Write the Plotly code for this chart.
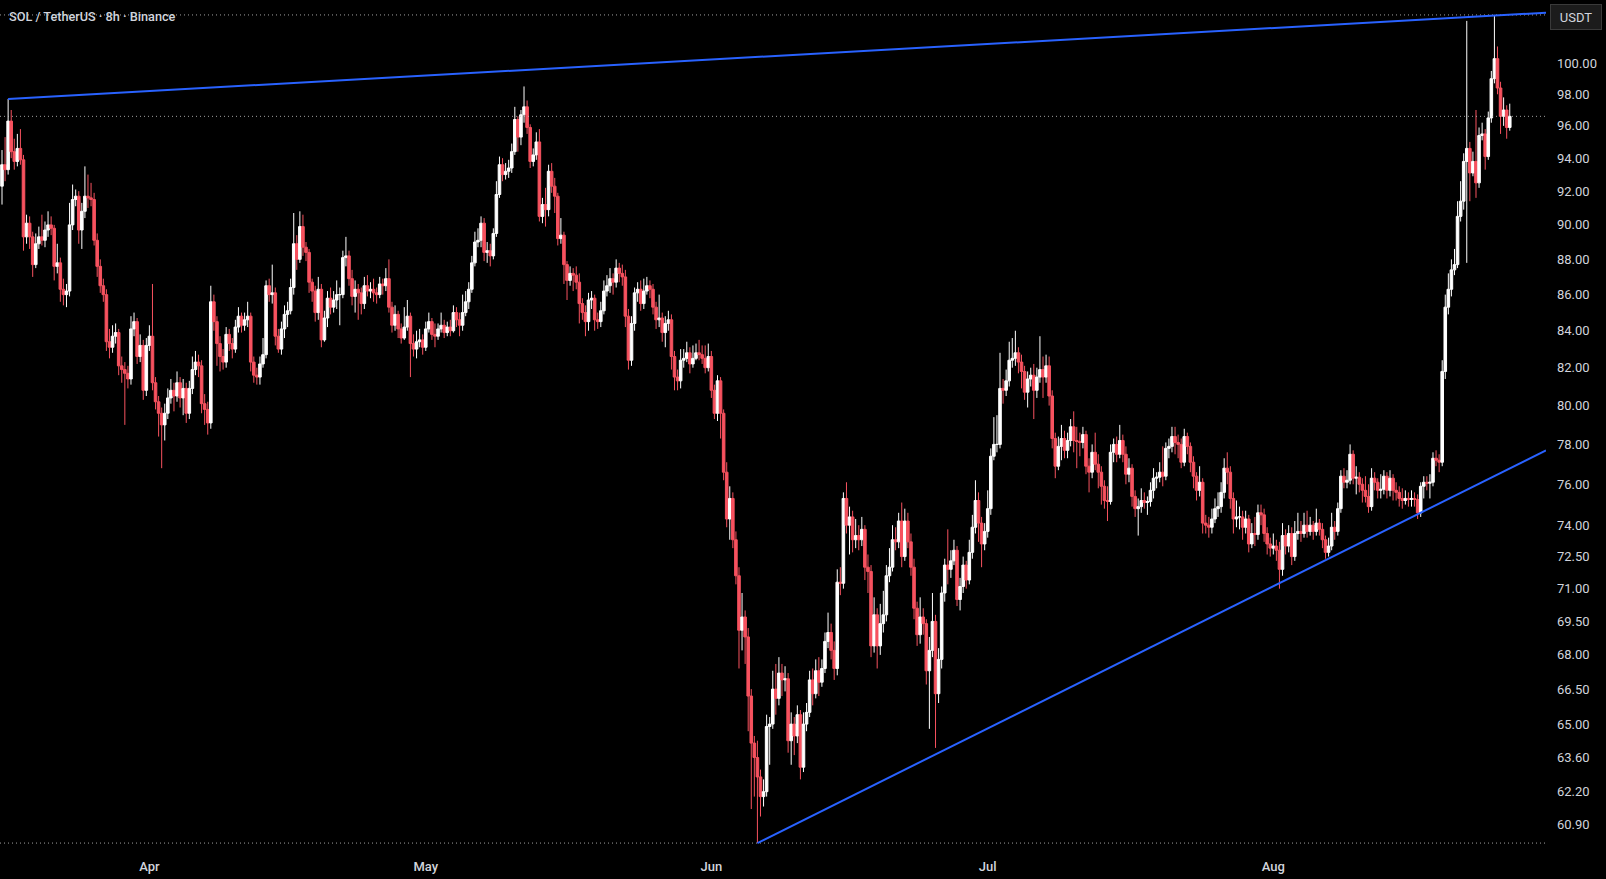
import math
import pandas as pd
import plotly.graph_objs as go

# Datos: velas de 8h SOL/USDT (apertura = cierre anterior)
first_open = 92.3
start_time = '2023-03-16 00:00'

closes = [
    93.6, 93.3, 96.3, 94.4, 93.8, 94.6, 93.9, 89.3, 90.1, 89.3,
    87.7, 88.9, 89.3, 89.1, 89.7, 90.0, 89.8, 87.6, 87.8, 86.3,
    86.0, 86.2, 90.0, 91.5, 91.7, 89.7, 90.8, 91.7, 91.6, 91.5,
    89.1, 87.6, 86.5, 86.0, 83.4, 83.1, 83.7, 83.9, 82.1, 81.9,
    81.7, 81.4, 84.1, 84.5, 82.6, 83.2, 80.8, 83.2, 83.7, 81.2,
    80.2, 79.6, 79.0, 79.6, 80.4, 80.8, 80.5, 81.2, 80.4, 80.9,
    79.6, 80.9, 81.9, 82.3, 82.1, 80.1, 79.8, 79.1, 85.6, 84.5,
    83.3, 82.6, 82.3, 83.8, 83.3, 83.0, 84.2, 84.8, 84.3, 84.6,
    84.8, 82.3, 81.6, 81.5, 82.2, 82.7, 86.5, 86.0, 86.1, 83.7,
    83.0, 84.1, 84.9, 85.1, 86.4, 88.9, 88.0, 89.9, 88.7, 88.4,
    86.7, 86.2, 85.0, 86.3, 83.5, 84.7, 85.8, 85.3, 85.7, 86.0,
    86.0, 88.1, 88.2, 86.9, 85.9, 86.3, 86.1, 85.5, 86.5, 86.2,
    86.3, 86.1, 86.0, 86.6, 86.5, 86.9, 85.3, 84.3, 84.9, 84.1,
    83.6, 84.2, 84.8, 83.3, 83.0, 83.4, 83.5, 83.1, 84.1, 84.5,
    83.8, 83.7, 84.1, 84.3, 83.9, 84.2, 84.0, 85.0, 84.6, 84.3,
    85.0, 85.6, 86.3, 87.8, 89.0, 89.1, 90.1, 88.4, 88.5, 88.2,
    89.5, 91.8, 93.6, 93.0, 93.2, 93.4, 94.4, 96.4, 95.3, 96.7,
    97.2, 95.9, 93.8, 94.2, 95.0, 90.5, 91.2, 90.9, 93.2, 92.3,
    91.7, 89.2, 89.4, 87.7, 86.8, 87.2, 87.1, 86.7, 85.5, 85.0,
    84.5, 85.7, 85.8, 84.6, 84.5, 85.1, 86.2, 86.5, 86.9, 86.7,
    87.5, 87.2, 87.0, 84.8, 82.4, 84.4, 86.1, 86.3, 85.5, 86.2,
    86.5, 86.3, 85.3, 84.6, 84.7, 83.9, 84.4, 84.6, 82.6, 81.5,
    81.3, 82.4, 82.5, 82.8, 82.2, 82.5, 82.8, 82.7, 82.5, 82.0,
    82.6, 80.8, 79.6, 81.3, 79.6, 76.6, 74.3, 75.3, 73.3, 71.6,
    69.1, 69.7, 68.8, 66.2, 64.2, 63.6, 62.8, 62.0, 62.2, 64.9,
    65.0, 66.5, 66.1, 67.2, 66.9, 66.95, 64.3, 65.0, 64.5, 65.4,
    63.2, 65.0, 65.5, 66.9, 66.3, 67.3, 66.8, 67.4, 68.6, 69.0,
    68.2, 67.4, 71.3, 71.25, 75.3, 74.0, 74.4, 73.3, 73.5, 73.3,
    73.8, 72.0, 71.8, 68.4, 69.8, 68.4, 69.4, 69.8, 71.6, 72.0,
    73.3, 73.2, 74.2, 72.5, 74.2, 73.2, 72.0, 70.1, 68.9, 69.7,
    69.4, 67.3, 68.2, 69.5, 66.3, 67.8, 70.8, 72.1, 71.9, 72.3,
    72.8, 70.5, 71.1, 72.1, 71.4, 72.7, 73.9, 75.2, 74.1, 73.1,
    73.7, 74.8, 77.4, 78.0, 78.0, 80.9, 80.8, 81.3, 82.4, 82.5,
    82.8, 82.3, 81.8, 80.7, 81.4, 81.6, 80.8, 81.5, 81.9, 81.5,
    82.1, 80.5, 78.3, 76.9, 77.9, 78.3, 77.7, 78.2, 78.9, 78.2,
    78.15, 78.1, 78.5, 76.9, 76.6, 77.6, 77.0, 76.6, 75.9, 75.2,
    75.15, 77.6, 78.0, 77.5, 78.2, 77.5, 76.5, 76.8, 75.4, 74.8,
    74.9, 75.2, 75.1, 75.15, 75.7, 76.3, 76.35, 76.6, 76.4, 77.8,
    77.9, 78.4, 78.1, 78.0, 77.1, 78.4, 77.9, 77.1, 76.4, 75.7,
    76.1, 74.1, 74.0, 73.9, 74.3, 74.8, 74.9, 75.6, 76.8, 76.6,
    75.3, 74.3, 74.4, 74.4, 73.9, 74.3, 73.1, 73.6, 73.55, 74.6,
    74.5, 73.6, 73.1, 72.9, 73.0, 72.8, 71.9, 73.5, 73.0, 73.6,
    72.5, 73.6, 73.7, 73.6, 74.0, 73.7, 74.0, 73.7, 74.1, 73.8,
    73.3, 72.7, 73.0, 73.9, 73.7, 74.8, 76.4, 76.1, 76.2, 77.5,
    76.3, 76.35, 76.0, 75.7, 75.4, 74.9, 76.3, 76.1, 75.7, 75.75,
    76.4, 75.7, 76.3, 75.7, 75.6, 75.3, 75.2, 75.3, 75.25, 75.3,
    75.25, 74.6, 75.9, 76.1, 76.05, 76.1, 77.3, 77.2, 77.1, 81.8,
    85.3, 86.3, 87.4, 87.7, 90.5, 91.4, 93.8, 94.6, 93.1, 93.8,
    92.5, 95.4, 95.5, 94.1, 96.5, 99.0, 100.3, 98.4, 96.6, 97.0,
    95.9, 96.6,
]

highs = [
    94.5, 95.3, 97.7, 97.0, 95.2, 95.5, 95.8, 94.2, 90.6, 90.5,
    89.6, 89.5, 89.9, 90.6, 90.2, 90.8, 90.5, 90.0, 88.9, 88.1,
    86.9, 86.6, 91.3, 92.4, 92.1, 92.0, 91.3, 93.5, 93.0, 92.5,
    91.9, 89.5, 88.0, 86.9, 86.3, 84.1, 84.3, 84.4, 84.1, 82.6,
    82.3, 82.1, 84.8, 85.0, 84.7, 83.8, 83.5, 83.6, 84.3, 86.6,
    81.5, 80.5, 79.9, 80.1, 80.9, 81.4, 81.2, 81.8, 81.5, 81.4,
    81.2, 81.3, 82.6, 82.9, 82.7, 82.4, 80.6, 80.2, 86.5, 86.0,
    84.8, 83.7, 83.0, 84.2, 84.1, 83.6, 84.6, 85.3, 85.0, 85.0,
    85.6, 85.0, 82.6, 82.0, 82.6, 83.6, 86.8, 86.9, 87.7, 86.4,
    84.1, 84.5, 85.4, 85.6, 86.9, 90.7, 89.4, 90.8, 90.6, 89.0,
    88.6, 86.9, 86.5, 87.0, 86.6, 85.1, 86.2, 86.4, 86.2, 86.8,
    86.4, 88.5, 89.3, 88.5, 87.4, 86.8, 86.6, 86.4, 87.0, 87.1,
    86.7, 86.9, 86.4, 87.0, 86.9, 87.5, 88.0, 85.6, 85.4, 85.1,
    84.4, 85.3, 85.7, 85.0, 83.8, 84.0, 84.1, 83.8, 84.5, 85.0,
    84.7, 84.4, 84.4, 85.0, 84.6, 84.5, 84.6, 85.4, 85.3, 85.0,
    86.0, 86.2, 86.7, 88.2, 89.6, 89.8, 90.5, 90.4, 89.0, 88.9,
    89.8, 92.6, 94.1, 94.0, 93.7, 93.9, 94.9, 97.2, 96.6, 97.0,
    98.5, 97.6, 96.1, 94.6, 95.6, 95.8, 91.6, 92.2, 93.6, 93.7,
    92.8, 91.9, 90.4, 89.6, 87.9, 87.6, 87.5, 87.6, 87.2, 85.8,
    85.4, 86.1, 86.2, 86.0, 85.0, 85.6, 86.8, 87.1, 87.5, 87.2,
    88.0, 87.8, 87.7, 87.4, 85.2, 84.8, 86.4, 86.7, 86.8, 86.9,
    87.0, 86.8, 86.6, 85.6, 86.0, 85.0, 84.8, 85.1, 84.9, 82.9,
    81.9, 83.0, 83.0, 83.4, 83.1, 83.2, 83.3, 83.5, 83.2, 83.2,
    83.3, 82.9, 81.1, 81.6, 81.5, 79.8, 77.1, 75.9, 75.6, 73.7,
    72.0, 70.8, 70.0, 69.2, 66.5, 64.5, 64.3, 63.1, 62.7, 65.4,
    65.3, 67.3, 67.6, 67.9, 67.6, 67.5, 67.2, 65.5, 65.3, 65.8,
    65.6, 65.5, 65.9, 67.3, 67.4, 67.8, 67.9, 67.8, 69.0, 69.9,
    69.4, 68.6, 71.9, 72.0, 75.6, 76.1, 74.9, 74.7, 74.3, 74.0,
    74.4, 74.0, 72.6, 72.1, 70.6, 70.1, 70.3, 70.9, 72.1, 72.9,
    74.0, 73.9, 74.6, 75.1, 74.8, 74.6, 73.6, 72.4, 70.4, 70.6,
    70.1, 69.6, 68.8, 70.8, 69.8, 68.3, 71.1, 72.4, 73.8, 72.8,
    73.3, 73.0, 71.5, 72.5, 72.3, 73.3, 74.5, 76.2, 75.6, 74.4,
    74.1, 75.7, 77.8, 79.4, 79.5, 82.8, 81.4, 81.9, 83.4, 83.6,
    84.0, 83.1, 82.7, 82.1, 81.8, 82.0, 82.2, 82.0, 83.7, 82.6,
    82.7, 82.6, 80.8, 78.6, 78.4, 79.0, 78.7, 78.6, 79.3, 79.7,
    78.9, 78.6, 78.9, 78.7, 77.3, 78.0, 78.6, 77.5, 76.9, 76.2,
    75.9, 78.0, 78.3, 78.4, 79.0, 78.5, 77.9, 77.3, 77.0, 75.7,
    75.3, 75.8, 75.6, 75.4, 76.1, 76.8, 76.6, 77.1, 77.9, 78.1,
    78.3, 78.9, 78.9, 78.5, 78.3, 78.8, 78.6, 78.1, 77.4, 76.6,
    76.9, 76.3, 74.5, 74.4, 74.8, 75.3, 75.6, 76.1, 77.3, 77.6,
    76.9, 75.6, 75.2, 74.9, 74.7, 74.7, 74.5, 74.1, 74.4, 75.0,
    75.0, 74.8, 73.9, 73.4, 73.6, 73.3, 73.2, 74.1, 73.8, 74.0,
    73.9, 74.2, 74.6, 74.2, 74.6, 74.7, 74.4, 74.2, 74.8, 74.3,
    74.1, 73.5, 73.4, 74.6, 74.2, 75.1, 76.7, 76.8, 76.7, 78.0,
    77.7, 76.9, 76.6, 76.3, 76.4, 76.0, 76.8, 76.6, 76.3, 76.5,
    76.7, 76.6, 76.7, 76.5, 76.1, 75.9, 75.8, 75.7, 75.6, 75.7,
    75.6, 75.5, 76.1, 76.4, 76.4, 76.5, 77.6, 77.7, 77.5, 82.4,
    86.0, 87.2, 88.0, 88.6, 91.4, 92.6, 94.3, 102.8, 95.0, 94.4,
    97.0, 95.9, 96.2, 95.8, 96.9, 99.5, 103.2, 101.1, 98.8, 97.8,
    97.3, 97.4,
]

lows = [
    91.2, 92.6, 93.0, 94.0, 93.3, 93.5, 93.6, 88.5, 88.9, 88.6,
    87.0, 87.5, 88.6, 88.8, 88.7, 89.3, 89.4, 86.8, 87.2, 85.6,
    85.4, 85.3, 85.9, 89.7, 91.1, 88.9, 88.6, 90.4, 91.0, 91.1,
    88.8, 87.0, 86.1, 85.6, 82.9, 82.5, 82.8, 83.3, 81.6, 81.2,
    79.0, 80.9, 81.1, 83.7, 82.2, 82.3, 80.3, 80.5, 82.9, 80.8,
    79.8, 78.4, 76.8, 78.2, 79.3, 80.1, 79.7, 80.2, 79.9, 79.5,
    79.1, 79.3, 80.6, 81.6, 81.5, 79.6, 79.0, 78.5, 78.8, 84.0,
    82.1, 81.8, 81.9, 82.0, 82.9, 82.5, 82.8, 83.9, 83.9, 84.0,
    84.2, 81.8, 81.2, 81.1, 81.1, 82.0, 82.5, 85.6, 85.5, 83.2,
    82.8, 82.7, 83.6, 84.2, 84.9, 86.0, 87.4, 87.8, 88.2, 87.9,
    86.1, 85.6, 84.5, 84.6, 83.1, 83.4, 84.2, 84.9, 85.0, 85.2,
    84.3, 85.8, 87.6, 86.5, 85.4, 85.0, 84.6, 84.9, 85.2, 85.9,
    85.8, 85.6, 85.5, 85.8, 86.0, 86.2, 85.0, 83.9, 84.0, 83.6,
    83.3, 83.5, 84.0, 81.5, 82.6, 82.5, 83.1, 82.7, 82.9, 83.9,
    83.5, 83.1, 83.5, 83.9, 83.6, 83.7, 83.7, 83.9, 84.2, 83.7,
    84.0, 84.8, 85.2, 86.1, 87.6, 88.7, 88.7, 87.9, 87.8, 87.6,
    88.0, 89.3, 91.6, 92.6, 92.7, 92.8, 93.1, 94.2, 94.4, 94.8,
    96.2, 95.5, 93.4, 93.5, 93.9, 90.2, 90.1, 89.9, 90.5, 91.9,
    90.7, 88.8, 88.9, 86.6, 85.7, 86.5, 86.2, 86.3, 84.4, 84.6,
    83.7, 84.0, 85.2, 84.0, 84.1, 84.2, 84.9, 85.9, 86.1, 86.0,
    86.4, 86.7, 86.5, 84.2, 81.9, 82.1, 84.0, 85.6, 85.1, 85.2,
    86.0, 85.8, 84.9, 84.1, 84.2, 83.4, 83.1, 84.0, 81.9, 80.8,
    80.8, 80.9, 82.0, 82.3, 81.7, 82.0, 82.4, 82.4, 82.2, 81.7,
    81.8, 80.4, 79.3, 79.2, 78.3, 76.2, 73.9, 73.3, 72.9, 71.2,
    67.4, 68.2, 67.6, 64.7, 61.5, 62.0, 60.15, 61.2, 61.6, 62.0,
    63.3, 64.8, 65.4, 65.8, 66.2, 66.4, 63.8, 63.3, 63.7, 64.2,
    62.7, 63.0, 64.7, 65.3, 65.8, 66.1, 66.2, 66.6, 67.2, 68.3,
    67.8, 66.9, 67.1, 70.7, 71.0, 73.6, 72.6, 72.7, 72.9, 72.8,
    73.0, 71.4, 70.8, 67.9, 68.1, 67.4, 68.0, 69.0, 69.5, 71.3,
    71.8, 72.8, 72.9, 72.0, 72.3, 72.9, 71.6, 69.6, 68.4, 68.5,
    68.9, 66.7, 64.8, 67.9, 64.0, 65.9, 67.4, 70.4, 71.2, 71.5,
    72.1, 70.2, 70.0, 70.8, 71.0, 71.2, 72.4, 73.6, 73.2, 72.0,
    72.8, 73.4, 74.5, 77.2, 77.6, 77.8, 80.1, 80.5, 81.0, 82.0,
    82.1, 81.7, 80.9, 80.3, 79.9, 81.0, 79.3, 80.4, 81.2, 80.4,
    81.2, 80.0, 77.8, 76.3, 76.7, 77.2, 77.3, 77.3, 77.9, 77.6,
    76.8, 77.4, 77.8, 76.5, 75.6, 76.3, 76.7, 75.8, 75.0, 74.8,
    74.2, 75.0, 77.1, 77.1, 77.3, 77.1, 76.0, 76.1, 74.9, 74.4,
    73.5, 74.6, 74.8, 74.5, 74.9, 75.3, 75.8, 76.1, 75.9, 76.2,
    77.3, 77.6, 77.5, 77.3, 76.8, 76.9, 77.5, 76.6, 75.8, 75.2,
    75.4, 73.6, 73.6, 73.4, 73.6, 74.1, 74.4, 74.6, 75.3, 76.0,
    74.8, 73.6, 73.9, 73.8, 73.3, 73.6, 72.7, 72.9, 73.0, 73.3,
    74.0, 73.2, 72.6, 72.5, 72.6, 72.3, 71.0, 71.6, 72.6, 72.7,
    72.1, 72.3, 73.3, 73.2, 73.4, 73.4, 73.5, 73.3, 73.5, 73.5,
    72.9, 72.4, 72.5, 72.8, 73.3, 73.5, 74.6, 75.8, 75.8, 76.0,
    76.0, 75.5, 75.6, 75.1, 75.1, 74.6, 74.7, 75.7, 75.3, 75.3,
    75.5, 75.3, 75.4, 75.2, 75.2, 74.9, 74.8, 75.0, 74.9, 74.9,
    74.9, 74.3, 74.4, 75.3, 75.7, 75.3, 75.9, 76.9, 76.6, 76.9,
    81.4, 84.9, 85.9, 87.1, 87.5, 90.2, 90.9, 87.8, 91.4, 92.9,
    91.6, 92.2, 95.1, 93.3, 93.9, 96.2, 98.7, 98.0, 95.5, 96.0,
    95.2, 95.7,
]

# Lineas de tendencia (fecha, precio)
top_line_x = ['2023-03-16 16:00', '2023-08-30 14:24']
top_line_y = [97.7, 103.35]
bottom_line_x = ['2023-06-06 00:00', '2023-08-30 14:24']
bottom_line_y = [60.15, 77.7]

# Eje de precios
y_ticks = [100, 98, 96, 94, 92, 90, 88, 86, 84, 82, 80, 78, 76, 74,
           72.5, 71, 69.5, 68, 66.5, 65, 63.6, 62.2, 60.9]
x_range = ['2023-03-15 18:48', '2023-08-30 14:24']
y_range = [59.84, 104.21]

opens = [first_open] + closes[:-1]
dates = pd.date_range(start_time, periods=len(closes), freq='8h')

fig = go.Figure()

fig.add_trace(go.Candlestick(
    x=dates,
    open=opens,
    high=highs,
    low=lows,
    close=closes,
    increasing=dict(line=dict(color='#ffffff', width=1), fillcolor='#ffffff'),
    decreasing=dict(line=dict(color='#f7525f', width=1), fillcolor='#f7525f'),
    whiskerwidth=0,
    showlegend=False
))

# Lineas punteadas: maximo, minimo y ultimo precio
for level in [max(highs), min(lows), closes[-1]]:
    fig.add_trace(go.Scatter(
        x=x_range,
        y=[level, level],
        mode='lines',
        line=dict(color='rgba(200,200,200,0.8)', width=1, dash='1px,3px'),
        hoverinfo='skip',
        showlegend=False
    ))

# Lineas de tendencia azules
for lx, ly in [(top_line_x, top_line_y), (bottom_line_x, bottom_line_y)]:
    fig.add_trace(go.Scatter(
        x=lx,
        y=ly,
        mode='lines',
        line=dict(color='#2962ff', width=2),
        hoverinfo='skip',
        showlegend=False
    ))

fig.update_layout(
    width=1606,
    height=879,
    margin=dict(l=0, r=60, t=0, b=28),
    paper_bgcolor='#000000',
    plot_bgcolor='#000000',
    boxgap=0.12,
    boxgroupgap=0.05,
    font=dict(family='Roboto, Inter, sans-serif', color='#d1d4dc'),
    xaxis=dict(
        type='date',
        range=x_range,
        rangeslider=dict(visible=False),
        showgrid=False,
        zeroline=False,
        showline=False,
        tick0='2023-04-01',
        dtick='M1',
        tickformat='%b',
        ticks='',
        ticklabelstandoff=6,
        tickfont=dict(size=13, color='#d1d4dc', weight=500)
    ),
    yaxis=dict(
        type='log',
        side='right',
        range=[math.log10(y_range[0]), math.log10(y_range[1])],
        tickmode='array',
        tickvals=y_ticks,
        ticktext=[f'{v:.2f}' for v in y_ticks],
        showgrid=False,
        zeroline=False,
        showline=False,
        ticks='',
        ticklabelstandoff=10,
        tickfont=dict(size=13, color='#d1d4dc')
    ),
    annotations=[
        dict(
            text='SOL / TetherUS · 8h · Binance',
            xref='paper', yref='paper', x=0, y=1,
            xanchor='left', yanchor='top', xshift=7, yshift=-7,
            showarrow=False,
            font=dict(size=12.7, color='#d1d4dc', weight=500)
        ),
        dict(
            text='USDT',
            xref='paper', yref='paper', x=1, y=1,
            xanchor='left', yanchor='top', xshift=4, yshift=-4,
            showarrow=False,
            width=48, height=22,
            bgcolor='#1c1c1c', bordercolor='#3a3a3a', borderwidth=1,
            font=dict(size=13, color='#d1d4dc')
        ),
    ]
)

# Quitar el margen por defecto de la pagina y la barra de herramientas
fig.write_html(
    "out.html",
    config={'displayModeBar': False},
    post_script="document.body.style.margin='0';document.body.style.background='#000';"
)
